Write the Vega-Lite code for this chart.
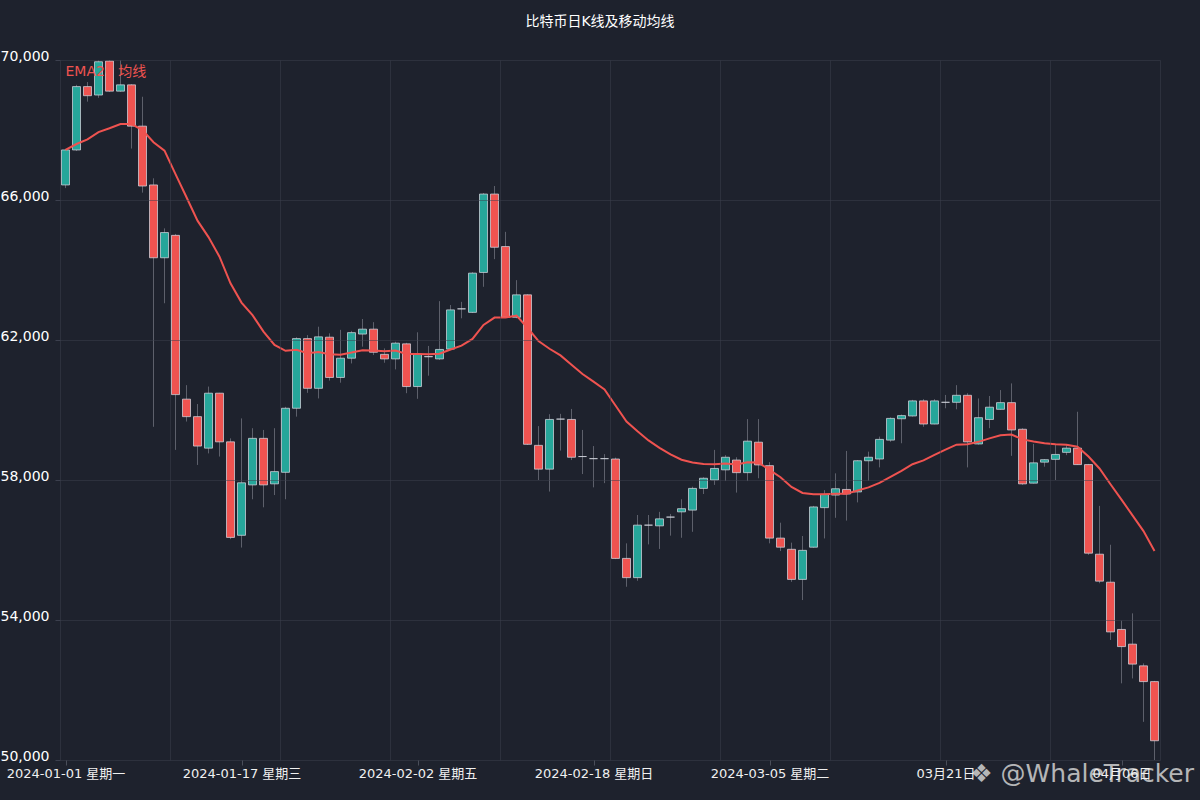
{
  "$schema": "https://vega.github.io/schema/vega-lite/v6.json",
  "description": "Daily candlesticks with a 20-day EMA",
  "width": 1100,
  "height": 700,
  "autosize": "none",
  "padding": {"left": 60, "top": 60, "right": 40, "bottom": 40},
  "background": "#1e222d",
  "title": {
    "text": "比特币日K线及移动均线",
    "color": "#ffffff",
    "fontSize": 14,
    "fontWeight": "normal",
    "anchor": "middle",
    "offset": 20,
    "dx": -10
  },
  "data": {
    "values": [
      {"date": "2024-01-01", "open": 66430, "high": 67460, "low": 66340, "close": 67430, "ema": 67430},
      {"date": "2024-01-02", "open": 67430, "high": 69290, "low": 67400, "close": 69240, "ema": 67600},
      {"date": "2024-01-03", "open": 69240, "high": 69370, "low": 68810, "close": 68980, "ema": 67730},
      {"date": "2024-01-04", "open": 69000, "high": 69990, "low": 68920, "close": 69950, "ema": 67940},
      {"date": "2024-01-05", "open": 69970, "high": 70000, "low": 69090, "close": 69110, "ema": 68050},
      {"date": "2024-01-06", "open": 69110, "high": 69990, "low": 69090, "close": 69290, "ema": 68170},
      {"date": "2024-01-07", "open": 69290, "high": 69310, "low": 67470, "close": 68110, "ema": 68170},
      {"date": "2024-01-08", "open": 68110, "high": 68950, "low": 66210, "close": 66400, "ema": 68000},
      {"date": "2024-01-09", "open": 66430, "high": 66620, "low": 59520, "close": 64350, "ema": 67650},
      {"date": "2024-01-10", "open": 64350, "high": 65190, "low": 63050, "close": 65070, "ema": 67410},
      {"date": "2024-01-11", "open": 64990, "high": 65030, "low": 58860, "close": 60440, "ema": 66740},
      {"date": "2024-01-12", "open": 60310, "high": 60710, "low": 59670, "close": 59810, "ema": 66080},
      {"date": "2024-01-13", "open": 59810, "high": 60170, "low": 58430, "close": 58970, "ema": 65410},
      {"date": "2024-01-14", "open": 58910, "high": 60670, "low": 58760, "close": 60480, "ema": 64940},
      {"date": "2024-01-15", "open": 60480, "high": 60490, "low": 58670, "close": 59090, "ema": 64380},
      {"date": "2024-01-16", "open": 59090, "high": 59190, "low": 56310, "close": 56360, "ema": 63620},
      {"date": "2024-01-17", "open": 56420, "high": 59760, "low": 56070, "close": 57920, "ema": 63070},
      {"date": "2024-01-18", "open": 57860, "high": 59480, "low": 57450, "close": 59190, "ema": 62710},
      {"date": "2024-01-19", "open": 59190, "high": 59430, "low": 57220, "close": 57860, "ema": 62240},
      {"date": "2024-01-20", "open": 57890, "high": 59480, "low": 57570, "close": 58240, "ema": 61860},
      {"date": "2024-01-21", "open": 58220, "high": 60090, "low": 57450, "close": 60050, "ema": 61690},
      {"date": "2024-01-22", "open": 60050, "high": 62080, "low": 59810, "close": 62040, "ema": 61720},
      {"date": "2024-01-23", "open": 62040, "high": 62140, "low": 60490, "close": 60620, "ema": 61620},
      {"date": "2024-01-24", "open": 60620, "high": 62380, "low": 60330, "close": 62090, "ema": 61660},
      {"date": "2024-01-25", "open": 62080, "high": 62190, "low": 60840, "close": 60930, "ema": 61590},
      {"date": "2024-01-26", "open": 60930, "high": 62290, "low": 60780, "close": 61480, "ema": 61580},
      {"date": "2024-01-27", "open": 61480, "high": 62260, "low": 61330, "close": 62210, "ema": 61640},
      {"date": "2024-01-28", "open": 62170, "high": 62600, "low": 61810, "close": 62310, "ema": 61710},
      {"date": "2024-01-29", "open": 62310, "high": 62510, "low": 61570, "close": 61650, "ema": 61700},
      {"date": "2024-01-30", "open": 61590, "high": 61760, "low": 61350, "close": 61460, "ema": 61680},
      {"date": "2024-01-31", "open": 61460, "high": 61950, "low": 61160, "close": 61910, "ema": 61700},
      {"date": "2024-02-01", "open": 61890, "high": 61920, "low": 60480, "close": 60670, "ema": 61600},
      {"date": "2024-02-02", "open": 60670, "high": 62220, "low": 60320, "close": 61600, "ema": 61600},
      {"date": "2024-02-03", "open": 61520, "high": 61830, "low": 60980, "close": 61530, "ema": 61590},
      {"date": "2024-02-04", "open": 61460, "high": 63110, "low": 61430, "close": 61730, "ema": 61610},
      {"date": "2024-02-05", "open": 61740, "high": 63000, "low": 61710, "close": 62860, "ema": 61730},
      {"date": "2024-02-06", "open": 62890, "high": 63090, "low": 62620, "close": 62890, "ema": 61840},
      {"date": "2024-02-07", "open": 62790, "high": 63940, "low": 62770, "close": 63910, "ema": 62030},
      {"date": "2024-02-08", "open": 63930, "high": 66200, "low": 63520, "close": 66170, "ema": 62430},
      {"date": "2024-02-09", "open": 66170, "high": 66400, "low": 64310, "close": 64650, "ema": 62640},
      {"date": "2024-02-10", "open": 64670, "high": 65090, "low": 62630, "close": 62650, "ema": 62640},
      {"date": "2024-02-11", "open": 62650, "high": 63710, "low": 62620, "close": 63290, "ema": 62700},
      {"date": "2024-02-12", "open": 63290, "high": 63310, "low": 59000, "close": 59020, "ema": 62350},
      {"date": "2024-02-13", "open": 58990, "high": 59540, "low": 58000, "close": 58310, "ema": 61970},
      {"date": "2024-02-14", "open": 58310, "high": 59880, "low": 57670, "close": 59730, "ema": 61750},
      {"date": "2024-02-15", "open": 59740, "high": 59890, "low": 58840, "close": 59740, "ema": 61560},
      {"date": "2024-02-16", "open": 59730, "high": 60030, "low": 58570, "close": 58650, "ema": 61290},
      {"date": "2024-02-17", "open": 58670, "high": 59430, "low": 58170, "close": 58670, "ema": 61030},
      {"date": "2024-02-18", "open": 58610, "high": 58970, "low": 57790, "close": 58610, "ema": 60810},
      {"date": "2024-02-19", "open": 58610, "high": 58740, "low": 57910, "close": 58610, "ema": 60590},
      {"date": "2024-02-20", "open": 58600, "high": 58640, "low": 55740, "close": 55760, "ema": 60130},
      {"date": "2024-02-21", "open": 55760, "high": 56190, "low": 54950, "close": 55210, "ema": 59670},
      {"date": "2024-02-22", "open": 55210, "high": 57000, "low": 55120, "close": 56710, "ema": 59390},
      {"date": "2024-02-23", "open": 56710, "high": 57000, "low": 56160, "close": 56710, "ema": 59130},
      {"date": "2024-02-24", "open": 56690, "high": 57090, "low": 56030, "close": 56890, "ema": 58920},
      {"date": "2024-02-25", "open": 56940, "high": 57030, "low": 56410, "close": 56940, "ema": 58730},
      {"date": "2024-02-26", "open": 57090, "high": 57450, "low": 56350, "close": 57180, "ema": 58580},
      {"date": "2024-02-27", "open": 57140, "high": 57810, "low": 56520, "close": 57760, "ema": 58500},
      {"date": "2024-02-28", "open": 57760, "high": 58080, "low": 57600, "close": 58050, "ema": 58460},
      {"date": "2024-02-29", "open": 58000, "high": 58860, "low": 57860, "close": 58330, "ema": 58450},
      {"date": "2024-03-01", "open": 58290, "high": 58710, "low": 57970, "close": 58650, "ema": 58470},
      {"date": "2024-03-02", "open": 58570, "high": 58650, "low": 57640, "close": 58210, "ema": 58440},
      {"date": "2024-03-03", "open": 58210, "high": 59740, "low": 57970, "close": 59110, "ema": 58510},
      {"date": "2024-03-04", "open": 59080, "high": 59740, "low": 58050, "close": 58430, "ema": 58500},
      {"date": "2024-03-05", "open": 58410, "high": 58510, "low": 56190, "close": 56340, "ema": 58290},
      {"date": "2024-03-06", "open": 56340, "high": 56780, "low": 55970, "close": 56080, "ema": 58080},
      {"date": "2024-03-07", "open": 56020, "high": 56210, "low": 55090, "close": 55160, "ema": 57800},
      {"date": "2024-03-08", "open": 55160, "high": 56400, "low": 54570, "close": 55990, "ema": 57630},
      {"date": "2024-03-09", "open": 56080, "high": 57260, "low": 56060, "close": 57230, "ema": 57590},
      {"date": "2024-03-10", "open": 57210, "high": 57710, "low": 56330, "close": 57590, "ema": 57590},
      {"date": "2024-03-11", "open": 57570, "high": 58190, "low": 56920, "close": 57750, "ema": 57610},
      {"date": "2024-03-12", "open": 57730, "high": 58830, "low": 56840, "close": 57600, "ema": 57610},
      {"date": "2024-03-13", "open": 57660, "high": 58570, "low": 57360, "close": 58550, "ema": 57700},
      {"date": "2024-03-14", "open": 58550, "high": 58810, "low": 57980, "close": 58650, "ema": 57790},
      {"date": "2024-03-15", "open": 58600, "high": 59240, "low": 58360, "close": 59160, "ema": 57920},
      {"date": "2024-03-16", "open": 59140, "high": 59790, "low": 59090, "close": 59760, "ema": 58090},
      {"date": "2024-03-17", "open": 59750, "high": 59870, "low": 59050, "close": 59840, "ema": 58260},
      {"date": "2024-03-18", "open": 59830, "high": 60290, "low": 59810, "close": 60260, "ema": 58450},
      {"date": "2024-03-19", "open": 60260, "high": 60310, "low": 59520, "close": 59600, "ema": 58560},
      {"date": "2024-03-20", "open": 59600, "high": 60310, "low": 59590, "close": 60260, "ema": 58720},
      {"date": "2024-03-21", "open": 60220, "high": 60430, "low": 60050, "close": 60220, "ema": 58870},
      {"date": "2024-03-22", "open": 60220, "high": 60710, "low": 60020, "close": 60420, "ema": 59010},
      {"date": "2024-03-23", "open": 60420, "high": 60480, "low": 58360, "close": 59090, "ema": 59020},
      {"date": "2024-03-24", "open": 59030, "high": 60330, "low": 59010, "close": 59780, "ema": 59090},
      {"date": "2024-03-25", "open": 59730, "high": 60400, "low": 59480, "close": 60080, "ema": 59190},
      {"date": "2024-03-26", "open": 60020, "high": 60570, "low": 60010, "close": 60210, "ema": 59280},
      {"date": "2024-03-27", "open": 60210, "high": 60760, "low": 58690, "close": 59430, "ema": 59300},
      {"date": "2024-03-28", "open": 59450, "high": 59480, "low": 57860, "close": 57890, "ema": 59160},
      {"date": "2024-03-29", "open": 57910, "high": 59030, "low": 57900, "close": 58490, "ema": 59100},
      {"date": "2024-03-30", "open": 58510, "high": 58600, "low": 58380, "close": 58580, "ema": 59050},
      {"date": "2024-03-31", "open": 58590, "high": 59000, "low": 58000, "close": 58730, "ema": 59020},
      {"date": "2024-04-01", "open": 58790, "high": 59000, "low": 58710, "close": 58910, "ema": 59010},
      {"date": "2024-04-02", "open": 58910, "high": 59950, "low": 58430, "close": 58440, "ema": 58950},
      {"date": "2024-04-03", "open": 58440, "high": 58460, "low": 55860, "close": 55910, "ema": 58670},
      {"date": "2024-04-04", "open": 55880, "high": 57260, "low": 55050, "close": 55110, "ema": 58330},
      {"date": "2024-04-05", "open": 55080, "high": 56150, "low": 53430, "close": 53660, "ema": 57880},
      {"date": "2024-04-06", "open": 53730, "high": 53980, "low": 52190, "close": 53240, "ema": 57440},
      {"date": "2024-04-07", "open": 53310, "high": 54190, "low": 52330, "close": 52740, "ema": 56990},
      {"date": "2024-04-08", "open": 52690, "high": 52760, "low": 51090, "close": 52240, "ema": 56540},
      {"date": "2024-04-09", "open": 52240, "high": 52260, "low": 50000, "close": 50550, "ema": 55970}
    ]
  },
  "encoding": {
    "x": {
      "field": "date",
      "type": "temporal",
      "title": null,
      "scale": {
        "type": "utc",
        "padding": 0,
        "domain": [
          {"year": 2023, "month": 12, "date": 31, "hours": 12, "utc": true},
          {"year": 2024, "month": 4, "date": 9, "hours": 12, "utc": true}
        ]
      }
    }
  },
  "layer": [
    {
      "mark": {"type": "rule", "color": "#787b86", "strokeWidth": 1, "opacity": 0.7},
      "encoding": {
        "x": {
          "field": "date",
          "type": "temporal",
          "title": null,
          "axis": {
            "orient": "top",
            "title": null,
            "labels": false,
            "ticks": false,
            "domain": false,
            "grid": true,
            "gridColor": "#3c404e",
            "gridOpacity": 0.5,
            "zindex": 1,
            "values": [
              {"year": 2023, "month": 12, "date": 31, "hours": 12, "utc": true},
              {"year": 2024, "month": 1, "date": 10, "hours": 12, "utc": true},
              {"year": 2024, "month": 1, "date": 20, "hours": 12, "utc": true},
              {"year": 2024, "month": 1, "date": 30, "hours": 12, "utc": true},
              {"year": 2024, "month": 2, "date": 9, "hours": 12, "utc": true},
              {"year": 2024, "month": 2, "date": 19, "hours": 12, "utc": true},
              {"year": 2024, "month": 2, "date": 29, "hours": 12, "utc": true},
              {"year": 2024, "month": 3, "date": 10, "hours": 12, "utc": true},
              {"year": 2024, "month": 3, "date": 20, "hours": 12, "utc": true},
              {"year": 2024, "month": 3, "date": 30, "hours": 12, "utc": true},
              {"year": 2024, "month": 4, "date": 9, "hours": 12, "utc": true}
            ]
          }
        },
        "y": {
          "field": "low",
          "type": "quantitative",
          "title": null,
          "scale": {"domain": [50000, 70000], "nice": false, "zero": false},
          "axis": {
            "title": null,
            "values": [50000, 54000, 58000, 62000, 66000, 70000],
            "format": ",d",
            "grid": true,
            "gridColor": "#3c404e",
            "gridOpacity": 0.5,
            "domain": false,
            "ticks": true,
            "tickSize": 5,
            "tickColor": "#3c404e",
            "labelAlign": "left",
            "labelPadding": 55,
            "labelBaseline": "middle",
            "labelOffset": -4,
            "labelColor": "#ffffff",
            "labelFontSize": 14,
            "zindex": 1
          }
        },
        "y2": {"field": "high"}
      }
    },
    {
      "mark": {"type": "bar", "size": 8, "stroke": "#d1d4dc", "strokeWidth": 1, "strokeOpacity": 0.75},
      "encoding": {
        "x": {
          "field": "date",
          "type": "temporal",
          "title": null,
          "axis": {
            "orient": "bottom",
            "title": null,
            "grid": false,
            "domain": false,
            "ticks": true,
            "tickSize": 5,
            "tickColor": "#4a4e5a",
            "labelColor": "#f0f0f0",
            "labelFontSize": 13,
            "labelPadding": 2,
            "labelFlush": false,
            "labelOverlap": false,
            "labelBound": false,
            "zindex": 1,
            "labelExpr": "datum.value >= 1710460800000 ? utcFormat(datum.value, '%m月%d日') : utcFormat(datum.value, '%Y-%m-%d') + ' 星期' + ['日','一','二','三','四','五','六'][utcday(datum.value)]",
            "values": [
              {"year": 2024, "month": 1, "date": 1, "utc": true},
              {"year": 2024, "month": 1, "date": 17, "utc": true},
              {"year": 2024, "month": 2, "date": 2, "utc": true},
              {"year": 2024, "month": 2, "date": 18, "utc": true},
              {"year": 2024, "month": 3, "date": 5, "utc": true},
              {"year": 2024, "month": 3, "date": 21, "utc": true},
              {"year": 2024, "month": 4, "date": 6, "utc": true}
            ]
          }
        },
        "y": {
          "field": "open",
          "type": "quantitative",
          "title": null,
          "scale": {"domain": [50000, 70000], "nice": false, "zero": false}
        },
        "y2": {"field": "close"},
        "color": {
          "condition": {"test": "datum.close >= datum.open", "value": "#26a69a"},
          "value": "#ef5350"
        }
      }
    },
    {
      "mark": {"type": "line", "color": "#ef5350", "strokeWidth": 2},
      "encoding": {
        "x": {"field": "date", "type": "temporal", "title": null, "axis": null},
        "y": {
          "field": "ema",
          "type": "quantitative",
          "title": null,
          "scale": {"domain": [50000, 70000], "nice": false, "zero": false}
        }
      }
    },
    {
      "data": {"values": [{"label": "EMA20 均线", "date": "2024-01-01", "price": 70000}]},
      "mark": {"type": "text", "align": "left", "baseline": "middle", "fontSize": 14, "color": "#ef5350", "dy": 12},
      "encoding": {
        "x": {"field": "date", "type": "temporal", "axis": null},
        "y": {"field": "price", "type": "quantitative", "title": null},
        "text": {"field": "label"}
      }
    },
    {
      "data": {"values": [{"label": "❖ @WhaleTracker", "date": "2024-04-09T12:00:00Z", "price": 50000}]},
      "mark": {"type": "text", "align": "right", "baseline": "middle", "fontSize": 25, "color": "#d0d0d0", "opacity": 0.85, "dx": 34, "dy": 14},
      "encoding": {
        "x": {"field": "date", "type": "temporal", "axis": null},
        "y": {"field": "price", "type": "quantitative", "title": null},
        "text": {"field": "label"}
      }
    }
  ],
  "resolve": {"axis": {"x": "independent"}},
  "config": {
    "view": {"stroke": null},
    "font": "DejaVu Sans, Noto Sans CJK SC"
  }
}
